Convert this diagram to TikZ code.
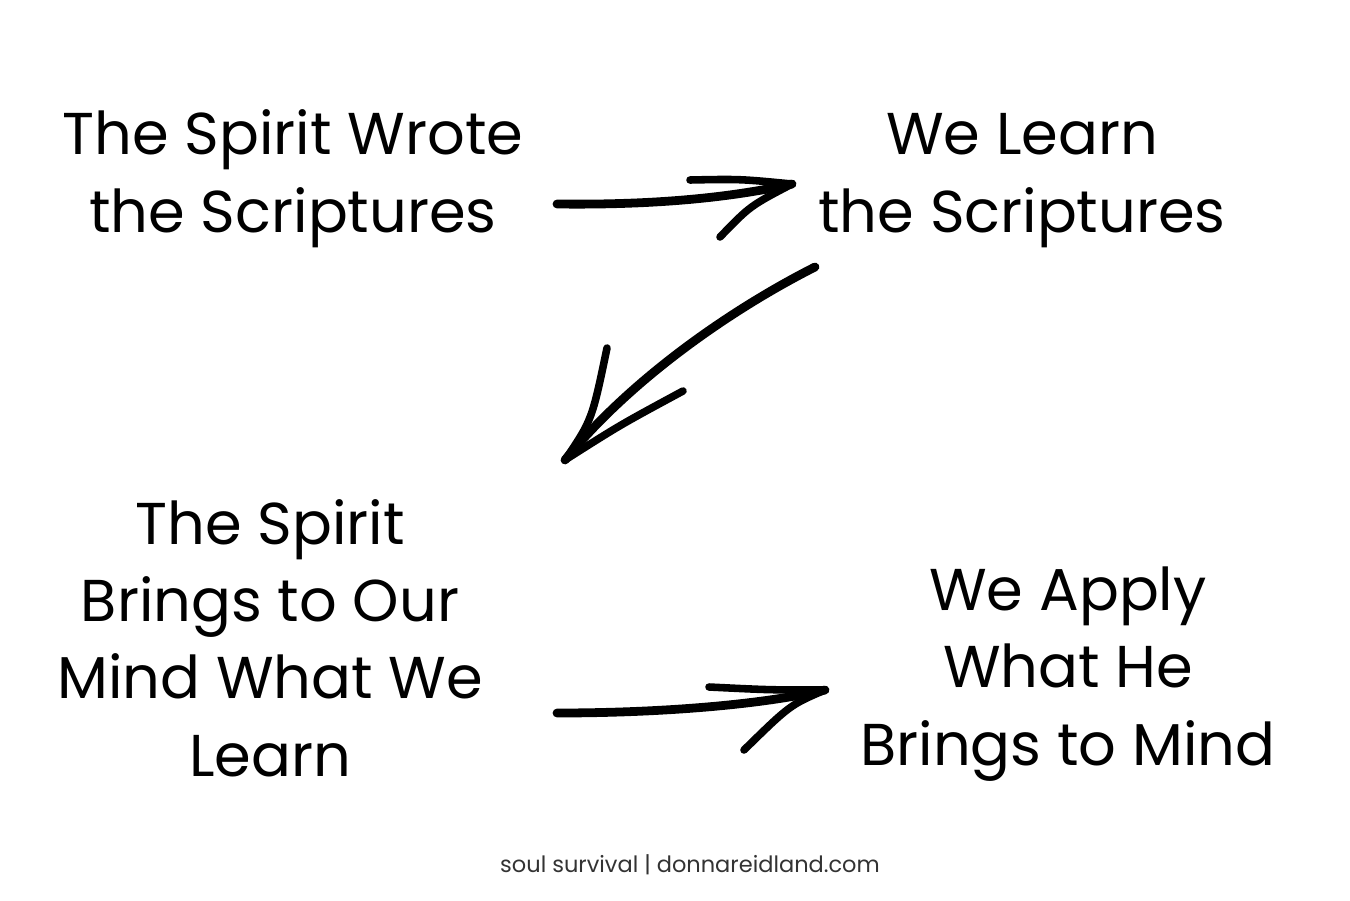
\documentclass[tikz,border=0pt]{standalone}
\usepackage{fontspec}
\setmainfont{Poppins}
\def\bigsize{\fontsize{33.6}{44}\selectfont}

\begin{document}
\begin{tikzpicture}[x=0.02cm,y=-0.02cm,line cap=round,line join=round]
    \tikzstyle{phrase}=[align=center,inner sep=0pt,anchor=base,font=\bigsize]
    \tikzstyle{shaft}=[line width=5pt]
    \tikzstyle{barb}=[line width=4.3pt]
    \tikzstyle{credit}=[anchor=base,text=black!80,font=\fontsize{12.8}{15}\selectfont]
    \useasboundingbox[fill=white] (0,0) rectangle (1350,900);

    % Draw the four steps (anchored at the last line)
    \node[phrase] (wrote) at (293,232) {The Spirit Wrote\\the Scriptures};
    \node[phrase] (learn) at (1022,232) {We Learn\\the Scriptures};
    \node[phrase] (brings) at (270,776) {The Spirit\\Brings to Our\\Mind What We\\Learn};
    \node[phrase] (apply) at (1068,765) {We Apply\\What He\\Brings to Mind};

    % Arrow ends
    \coordinate (wrote-s) at (557,204);
    \coordinate (wrote-t) at (792,184);
    \coordinate (learn-s) at (815,267);
    \coordinate (learn-t) at (565,460);
    \coordinate (brings-s) at (557,713);
    \coordinate (brings-t) at (825,690);

    % Arrow from the first step to the second
    \draw[shaft] (wrote-s) .. controls (640,205) and (720,200) .. (wrote-t);
    \draw[barb] (690,180) .. controls (740,179) .. (wrote-t);
    \draw[barb] (720,237) .. controls (750,206) .. (wrote-t);

    % Arrow from the second step to the third
    \draw[shaft] (learn-s) .. controls (730,310) and (630,380) .. (learn-t);
    \draw[barb] (607,348) .. controls (592,420) .. (learn-t);
    \draw[barb] (683,391) .. controls (620,425) .. (learn-t);

    % Arrow from the third step to the fourth
    \draw[shaft] (brings-s) .. controls (660,713) and (760,705) .. (brings-t);
    \draw[barb] (709,687) .. controls (770,690) .. (brings-t);
    \draw[barb] (744,750) .. controls (790,705) .. (brings-t);

    % Footer
    \node[credit] (site) at (690,872) {soul survival | donnareidland.com};
\end{tikzpicture}
\end{document}
